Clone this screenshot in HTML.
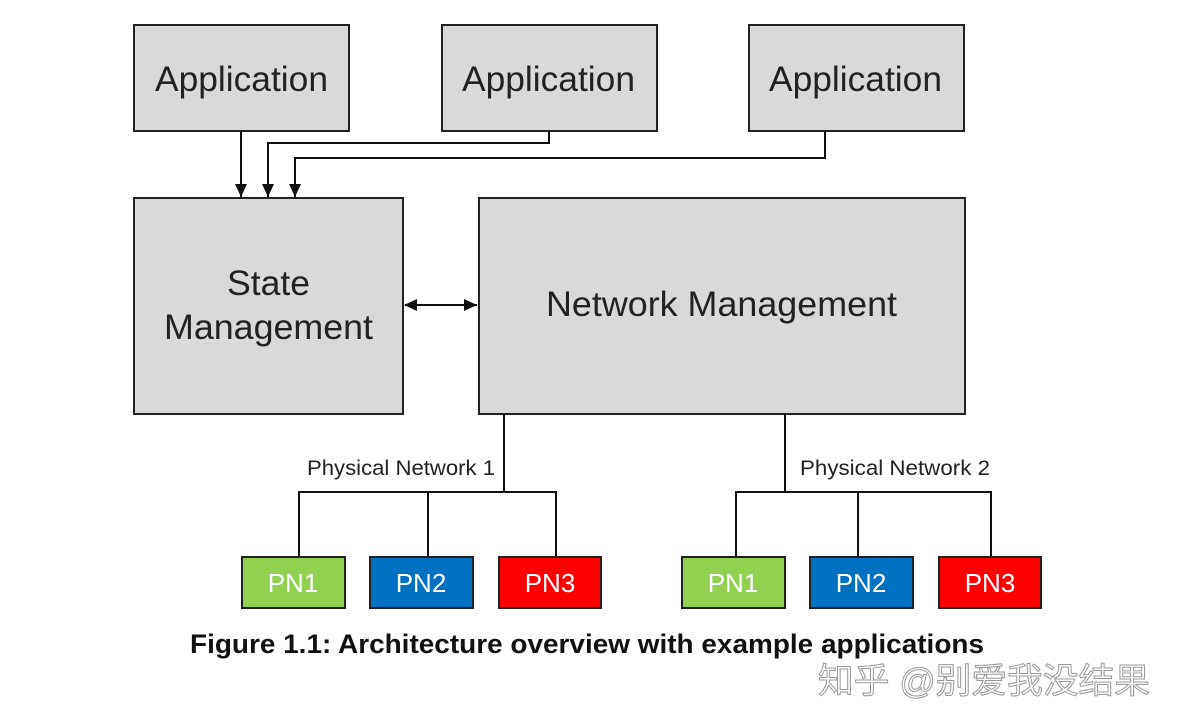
<!DOCTYPE html>
<html><head><meta charset="utf-8"><style>
html,body{margin:0;padding:0;background:#fff;}
svg{display:block;}
</style></head><body>
<svg width="1180" height="728" viewBox="0 0 1180 728" xmlns="http://www.w3.org/2000/svg" font-family="Liberation Sans, sans-serif">
<defs>
<marker id="a" markerWidth="14" markerHeight="14" refX="13" refY="6" orient="auto" markerUnits="userSpaceOnUse">
<path d="M0,0 L13,6 L0,12 z" fill="#111"/>
</marker>
<marker id="b" markerWidth="14" markerHeight="14" refX="1" refY="6" orient="auto" markerUnits="userSpaceOnUse">
<path d="M13,0 L0,6 L13,12 z" fill="#111"/>
</marker>
</defs>
<g fill="#d9d9d9" stroke="#222" stroke-width="2">
<rect x="134" y="25" width="215" height="106"/>
<rect x="442" y="25" width="215" height="106"/>
<rect x="749" y="25" width="215" height="106"/>
<rect x="134" y="198" width="269" height="216"/>
<rect x="479" y="198" width="486" height="216"/>
</g>
<g font-size="35" fill="#222">
<text x="155" y="91" textLength="173" lengthAdjust="spacingAndGlyphs">Application</text>
<text x="462" y="91" textLength="173" lengthAdjust="spacingAndGlyphs">Application</text>
<text x="769" y="91" textLength="173" lengthAdjust="spacingAndGlyphs">Application</text>
<text x="227" y="295" textLength="83" lengthAdjust="spacingAndGlyphs">State</text>
<text x="164" y="339" textLength="209" lengthAdjust="spacingAndGlyphs">Management</text>
<text x="546" y="316" textLength="351" lengthAdjust="spacingAndGlyphs">Network Management</text>
</g>
<g stroke="#111" stroke-width="2" fill="none">
<path d="M241,131 V197" marker-end="url(#a)"/>
<path d="M549,131 V143 H268 V197" marker-end="url(#a)"/>
<path d="M825,131 V158 H295 V197" marker-end="url(#a)"/>
<path d="M405,305 H477" marker-start="url(#b)" marker-end="url(#a)"/>
<path d="M504,414 V492 M299,557 V492 H556 V557 M428,492 V557"/>
<path d="M785,414 V492 M736,557 V492 H991 V557 M858,492 V557"/>
</g>
<g stroke="#222" stroke-width="2">
<rect x="242" y="557" width="103" height="51" fill="#92d050"/>
<rect x="370" y="557" width="103" height="51" fill="#0070c0"/>
<rect x="499" y="557" width="102" height="51" fill="#ff0000"/>
<rect x="682" y="557" width="103" height="51" fill="#92d050"/>
<rect x="810" y="557" width="103" height="51" fill="#0070c0"/>
<rect x="939" y="557" width="102" height="51" fill="#ff0000"/>
</g>
<g font-size="26" fill="#fff" text-anchor="middle">
<text x="293" y="592">PN1</text>
<text x="421" y="592">PN2</text>
<text x="550" y="592">PN3</text>
<text x="733" y="592">PN1</text>
<text x="861" y="592">PN2</text>
<text x="990" y="592">PN3</text>
</g>
<g font-size="21" fill="#222">
<text x="307" y="475" textLength="188" lengthAdjust="spacingAndGlyphs">Physical Network 1</text>
<text x="800" y="475" textLength="190" lengthAdjust="spacingAndGlyphs">Physical Network 2</text>
</g>
<text x="190" y="653" font-size="27" font-weight="bold" fill="#111" textLength="794" lengthAdjust="spacingAndGlyphs">Figure 1.1: Architecture overview with example applications</text>
<text x="818" y="693" font-size="35" fill="#fff" stroke="#999" stroke-width="1" font-family="Liberation Sans, Noto Sans CJK SC, sans-serif" textLength="332" lengthAdjust="spacingAndGlyphs">知乎 @别爱我没结果</text>
</svg>
</body></html>
